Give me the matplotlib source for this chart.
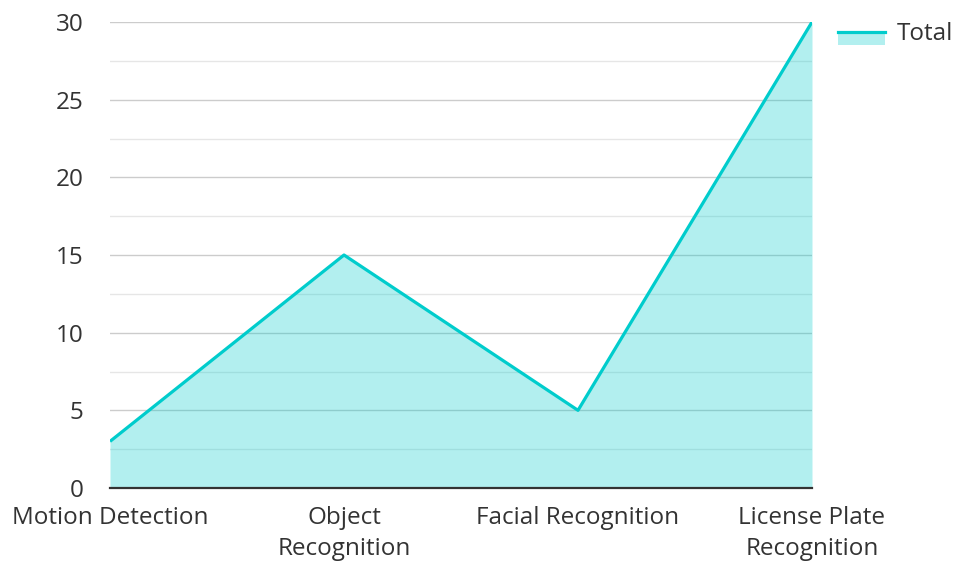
import matplotlib

matplotlib.use("Agg")
import matplotlib.pyplot as plt
from matplotlib.legend_handler import HandlerBase
from matplotlib.lines import Line2D
from matplotlib.patches import Rectangle
from matplotlib.ticker import MultipleLocator

categories = ["Motion Detection", "Object\nRecognition", "Facial Recognition", "License Plate\nRecognition"]
totals = [3, 15, 5, 30]
series_name = "Total"

line_color = "#00cccc"
text_color = "#333333"

plt.rcParams["font.family"] = ["Open Sans", "DejaVu Sans"]


class AreaHandler(HandlerBase):
    # line on top, light fill block underneath (like the reference key)
    def create_artists(self, legend, orig_handle, xdescent, ydescent, width, height, fontsize, trans):
        mid = height / 2 - ydescent
        patch = Rectangle((-xdescent, mid - 0.75 * height), width, 0.75 * height,
                          facecolor=line_color, alpha=0.3, lw=0, transform=trans)
        line = Line2D([-xdescent, -xdescent + width], [mid, mid], color=line_color, lw=2.3, transform=trans)
        return [patch, line]


fig = plt.figure(figsize=(9.54, 5.62), dpi=100)
ax = fig.add_axes([110 / 954, 1 - 488 / 562, (812 - 110) / 954, (488 - 22) / 562])

x = list(range(len(categories)))
ax.fill_between(x, totals, 0, color=line_color, alpha=0.3, lw=0, zorder=2)
ax.plot(x, totals, color=line_color, lw=2.3, zorder=3, solid_capstyle="butt")

ax.set_xlim(0, len(categories) - 1)
ax.set_ylim(0, 30)
ax.yaxis.set_major_locator(MultipleLocator(5))
ax.yaxis.set_minor_locator(MultipleLocator(2.5))
ax.grid(axis="y", which="major", color="#cccccc", lw=1.0, zorder=1)
ax.grid(axis="y", which="minor", color="#e6e6e6", lw=1.0, zorder=1)
ax.set_axisbelow(True)

for side in ["top", "right", "left"]:
    ax.spines[side].set_visible(False)
ax.spines["bottom"].set_color(text_color)
ax.spines["bottom"].set_linewidth(1.6)
ax.spines["bottom"].set_zorder(4)

ax.set_xticks(x)
ax.set_xticklabels(categories, linespacing=1.38)
ax.tick_params(axis="x", length=0, pad=13, labelsize=17.5, labelcolor=text_color)
ax.tick_params(axis="y", which="both", length=0, pad=19, labelsize=17.5, labelcolor=text_color)

ax.legend([object()], [series_name], handler_map={object: AreaHandler()}, loc="upper left",
          bbox_to_anchor=(1.006, 1.046), frameon=False, fontsize=17.5, labelcolor=text_color,
          handlelength=1.95, handletextpad=0.45)

fig.savefig("out.png", dpi=100)
